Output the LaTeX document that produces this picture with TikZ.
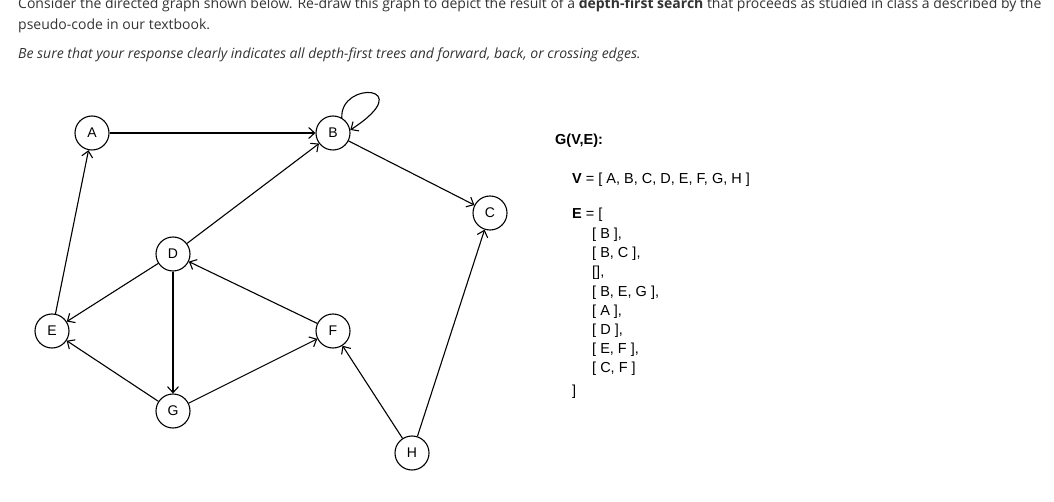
\documentclass[tikz,border=0pt]{standalone}
\usepackage{fontspec}
\setmainfont{Open Sans}
\newfontfamily\arialf{Liberation Sans}
\usetikzlibrary{arrows.meta}
\definecolor{txt}{HTML}{333333}
\begin{document}
\begin{tikzpicture}[x=1pt,y=-1pt,
  vtx/.style={circle,draw,line width=1.1pt,minimum size=34pt,inner sep=0pt,font=\arialf\fontsize{14}{16}\selectfont},
  edge/.style={line width=1.1pt,-{Straight Barb[length=6pt,width=11pt]}},
  lbl/.style={anchor=west,inner sep=0pt,font=\arialf\fontsize{14.5}{16}\selectfont},
  para/.style={anchor=west,inner sep=0pt,text=txt,font=\fontsize{14}{16}\selectfont}]
\useasboundingbox (0,0) rectangle (1054,502);
\node[para] (t1) at (18,5) {Consider the directed graph shown below. Re-draw this graph to depict the result of a \textbf{depth-first search} that proceeds as studied in class a described by the};
\node[para] (t2) at (18,26) {pseudo-code in our textbook.};
\node[para] (t3) at (18,55) {\itshape Be sure that your response clearly indicates all depth-first trees and forward, back, or crossing edges.};
\node[vtx] (A) at (92,133) {A};
\node[vtx] (B) at (333,133) {B};
\node[vtx] (C) at (490,213) {C};
\node[vtx] (D) at (173,254) {D};
\node[vtx] (E) at (52,331) {E};
\node[vtx] (F) at (333,331) {F};
\node[vtx] (G) at (173,411) {G};
\node[vtx] (H) at (412,453) {H};
\draw[edge] (A) -- (B);
\draw[edge] (B.60) .. controls (340,80) and (420,85) .. (B.10);
\draw[edge] (B) -- (C);
\draw[edge] (D) -- (B);
\draw[edge] (E) -- (A);
\draw[edge] (D) -- (E);
\draw[edge] (D) -- (G);
\draw[edge] (G) -- (E);
\draw[edge] (G) -- (F);
\draw[edge] (F) -- (D);
\draw[edge] (H) -- (F);
\draw[edge] (H) -- (C);
\node[lbl] (g) at (555,141) {\bfseries G(V,E):};
\node[lbl] (v) at (572,180) {\textbf{V} = [ A, B, C, D, E, F, G, H ]};
\node[lbl] (e) at (572,215) {\textbf{E} = [};
\node[lbl] (e1) at (592,235) {[ B ],};
\node[lbl] (e2) at (592,254) {[ B, C ],};
\node[lbl] (e3) at (592,273) {[],};
\node[lbl] (e4) at (592,293) {[ B, E, G ],};
\node[lbl] (e5) at (592,312) {[ A ],};
\node[lbl] (e6) at (592,331) {[ D ],};
\node[lbl] (e7) at (592,350) {[ E, F ],};
\node[lbl] (e8) at (592,369) {[ C, F ]};
\node[lbl] (e9) at (572,392) {]};
\end{tikzpicture}
\end{document}
